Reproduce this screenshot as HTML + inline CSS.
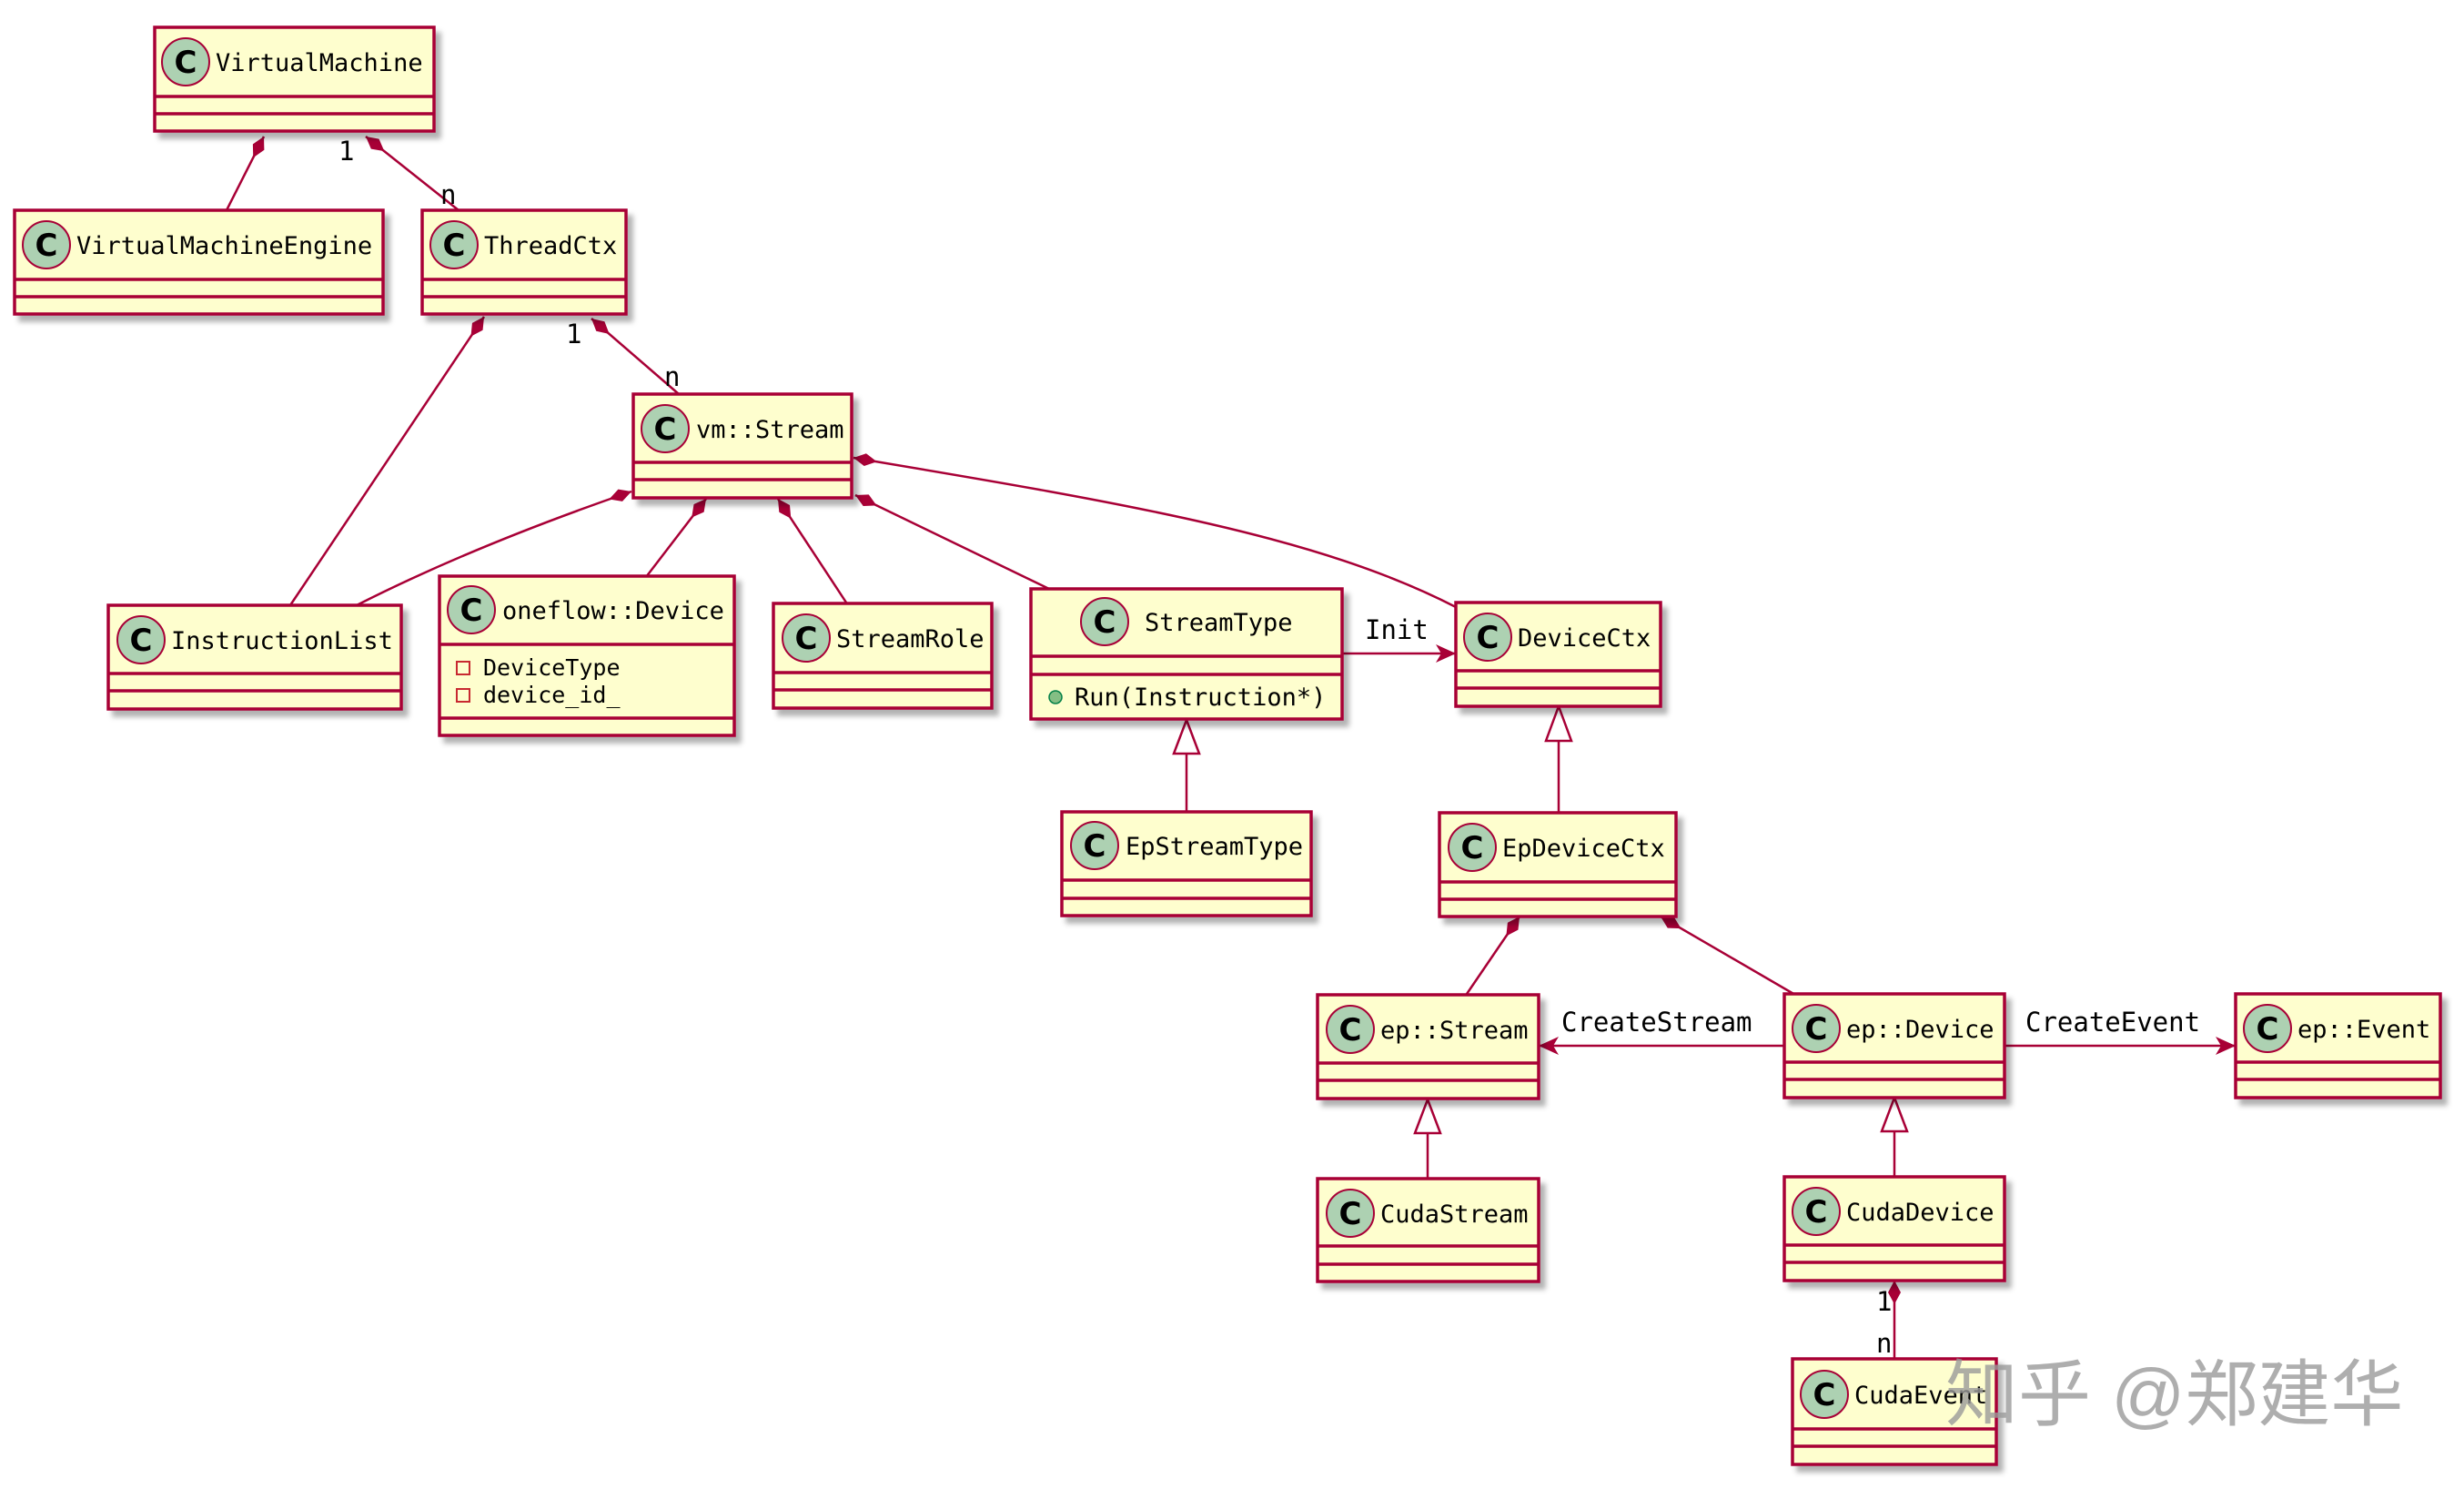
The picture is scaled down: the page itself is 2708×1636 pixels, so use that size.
<!DOCTYPE html>
<html><head><meta charset="utf-8">
<style>html,body{margin:0;padding:0;background:#fff;width:2708px;height:1636px;overflow:hidden}</style>
</head><body>
<svg width="2708" height="1636" viewBox="0 0 2708 1636" xmlns="http://www.w3.org/2000/svg">
<defs>
<filter id="sh" x="-10%" y="-10%" width="130%" height="140%"><feDropShadow dx="6" dy="7" stdDeviation="3" flood-color="#000" flood-opacity="0.3"/></filter>
<marker id="dm" markerUnits="userSpaceOnUse" markerWidth="26" markerHeight="14" refX="0" refY="7" orient="auto"><path d="M0,7 L13,0 L26,7 L13,14 z" fill="#A80036"/></marker>
<marker id="ar" markerUnits="userSpaceOnUse" markerWidth="24" markerHeight="24" refX="22" refY="12" orient="auto"><path d="M0,2 L22,12 L0,22 L6,12 z" fill="#A80036"/></marker>
</defs>
<style>
.b{fill:#FEFECE;stroke:#A80036;stroke-width:3.5;filter:url(#sh)}
.d{stroke:#A80036;stroke-width:3.5}
.c{fill:#ADD1B2;stroke:#A80036;stroke-width:2}
.t{font-family:"DejaVu Sans Mono","Liberation Mono",monospace;font-size:27px;fill:#000}
.g{font-family:"DejaVu Sans",sans-serif;font-size:34px;font-weight:bold;fill:#000;text-anchor:middle}
.l{fill:none;stroke:#A80036;stroke-width:2.5}
.lb{font-family:"DejaVu Sans Mono","Liberation Mono",monospace;font-size:29px;fill:#000}
</style>

<!-- connectors -->
<path class="l" marker-start="url(#dm)" d="M290,150 L249,231"/>
<path class="l" marker-start="url(#dm)" d="M402,150 L504,231"/>
<text class="lb" x="372" y="176">1</text>
<text class="lb" x="484" y="224">n</text>
<path class="l" marker-start="url(#dm)" d="M532,348 L319,665"/>
<path class="l" marker-start="url(#dm)" d="M650,350 L746,433"/>
<text class="lb" x="622" y="377">1</text>
<text class="lb" x="730" y="424">n</text>
<path class="l" marker-start="url(#dm)" d="M694,540 Q520,600 392,665"/>
<path class="l" marker-start="url(#dm)" d="M776,548 L710,634"/>
<path class="l" marker-start="url(#dm)" d="M855,548 L932,665"/>
<path class="l" marker-start="url(#dm)" d="M940,544 L1153,647"/>
<path class="l" marker-start="url(#dm)" d="M938,503 C1250,555 1450,590 1600,667"/>
<path class="l" marker-end="url(#ar)" d="M1475,718 L1600,718"/>
<text class="lb" x="1500" y="702">Init</text>
<path class="l" d="M1304,828 L1304,892"/>
<path d="M1304,791 L1318,828 L1290,828 z" fill="#fff" stroke="#A80036" stroke-width="2.5"/>
<path class="l" d="M1713,814 L1713,893"/>
<path d="M1713,776 L1727,814 L1699,814 z" fill="#fff" stroke="#A80036" stroke-width="2.5"/>
<path class="l" marker-start="url(#dm)" d="M1670,1007 L1610,1095"/>
<path class="l" marker-start="url(#dm)" d="M1825,1007 L1973,1093"/>
<path class="l" marker-end="url(#ar)" d="M1961,1149 L1691,1149"/>
<text class="lb" x="1716" y="1133">CreateStream</text>
<path class="l" marker-end="url(#ar)" d="M2203,1149 L2457,1149"/>
<text class="lb" x="2226" y="1133">CreateEvent</text>
<path class="l" d="M1569,1245 L1569,1296"/>
<path d="M1569,1208 L1583,1245 L1555,1245 z" fill="#fff" stroke="#A80036" stroke-width="2.5"/>
<path class="l" d="M2082,1243 L2082,1293"/>
<path d="M2082,1206 L2096,1243 L2068,1243 z" fill="#fff" stroke="#A80036" stroke-width="2.5"/>
<path class="l" marker-start="url(#dm)" d="M2082,1407 L2082,1493"/>
<text class="lb" x="2062" y="1440">1</text>
<text class="lb" x="2062" y="1486">n</text>

<!-- boxes -->
<g>
<rect class="b" x="170" y="30" width="307" height="114"/><line class="d" x1="170" y1="106" x2="477" y2="106"/><line class="d" x1="170" y1="125" x2="477" y2="125"/>
<circle class="c" cx="204" cy="68" r="26"/><text class="g" x="204" y="80">C</text><text class="t" x="237" y="78">VirtualMachine</text>

<rect class="b" x="16" y="231" width="405" height="114"/><line class="d" x1="16" y1="307" x2="421" y2="307"/><line class="d" x1="16" y1="326" x2="421" y2="326"/>
<circle class="c" cx="51" cy="269" r="26"/><text class="g" x="51" y="281">C</text><text class="t" x="84" y="279">VirtualMachineEngine</text>

<rect class="b" x="464" y="231" width="224" height="114"/><line class="d" x1="464" y1="307" x2="688" y2="307"/><line class="d" x1="464" y1="326" x2="688" y2="326"/>
<circle class="c" cx="499" cy="269" r="26"/><text class="g" x="499" y="281">C</text><text class="t" x="532" y="279">ThreadCtx</text>

<rect class="b" x="696" y="433" width="240" height="114"/><line class="d" x1="696" y1="508" x2="936" y2="508"/><line class="d" x1="696" y1="527" x2="936" y2="527"/>
<circle class="c" cx="731" cy="471" r="26"/><text class="g" x="731" y="483">C</text><text class="t" x="765" y="481">vm::Stream</text>

<rect class="b" x="119" y="665" width="322" height="114"/><line class="d" x1="119" y1="740" x2="441" y2="740"/><line class="d" x1="119" y1="759" x2="441" y2="759"/>
<circle class="c" cx="155" cy="703" r="26"/><text class="g" x="155" y="715">C</text><text class="t" x="188" y="713">InstructionList</text>

<rect class="b" x="483" y="633" width="324" height="175"/><line class="d" x1="483" y1="708" x2="807" y2="708"/><line class="d" x1="483" y1="789" x2="807" y2="789"/>
<circle class="c" cx="518" cy="670" r="26"/><text class="g" x="518" y="682">C</text><text class="t" x="552" y="680">oneflow::Device</text>
<rect x="502" y="727" width="14" height="14" fill="none" stroke="#C82930" stroke-width="2"/><text class="t" x="531" y="742" style="font-size:25px">DeviceType</text>
<rect x="502" y="757" width="14" height="14" fill="none" stroke="#C82930" stroke-width="2"/><text class="t" x="531" y="772" style="font-size:25px">device_id_</text>

<rect class="b" x="850" y="663" width="240" height="115"/><line class="d" x1="850" y1="739" x2="1090" y2="739"/><line class="d" x1="850" y1="758" x2="1090" y2="758"/>
<circle class="c" cx="886" cy="701" r="26"/><text class="g" x="886" y="713">C</text><text class="t" x="919" y="711">StreamRole</text>

<rect class="b" x="1133" y="647" width="342" height="143"/><line class="d" x1="1133" y1="721" x2="1475" y2="721"/><line class="d" x1="1133" y1="741" x2="1475" y2="741"/>
<circle class="c" cx="1214" cy="683" r="26"/><text class="g" x="1214" y="695">C</text><text class="t" x="1258" y="693">StreamType</text>
<circle cx="1160" cy="766" r="7" fill="#84BE84" stroke="#038048" stroke-width="1.5"/><text class="t" x="1181" y="775">Run(Instruction*)</text>

<rect class="b" x="1600" y="662" width="225" height="114"/><line class="d" x1="1600" y1="737" x2="1825" y2="737"/><line class="d" x1="1600" y1="756" x2="1825" y2="756"/>
<circle class="c" cx="1635" cy="700" r="26"/><text class="g" x="1635" y="712">C</text><text class="t" x="1668" y="710">DeviceCtx</text>

<rect class="b" x="1167" y="892" width="274" height="114"/><line class="d" x1="1167" y1="967" x2="1441" y2="967"/><line class="d" x1="1167" y1="987" x2="1441" y2="987"/>
<circle class="c" cx="1203" cy="929" r="26"/><text class="g" x="1203" y="941">C</text><text class="t" x="1237" y="939">EpStreamType</text>

<rect class="b" x="1582" y="893" width="260" height="114"/><line class="d" x1="1582" y1="969" x2="1842" y2="969"/><line class="d" x1="1582" y1="988" x2="1842" y2="988"/>
<circle class="c" cx="1618" cy="931" r="26"/><text class="g" x="1618" y="943">C</text><text class="t" x="1651" y="941">EpDeviceCtx</text>

<rect class="b" x="1448" y="1093" width="243" height="114"/><line class="d" x1="1448" y1="1168" x2="1691" y2="1168"/><line class="d" x1="1448" y1="1187" x2="1691" y2="1187"/>
<circle class="c" cx="1484" cy="1131" r="26"/><text class="g" x="1484" y="1143">C</text><text class="t" x="1517" y="1141">ep::Stream</text>

<rect class="b" x="1961" y="1092" width="242" height="114"/><line class="d" x1="1961" y1="1167" x2="2203" y2="1167"/><line class="d" x1="1961" y1="1186" x2="2203" y2="1186"/>
<circle class="c" cx="1996" cy="1130" r="26"/><text class="g" x="1996" y="1142">C</text><text class="t" x="2029" y="1140">ep::Device</text>

<rect class="b" x="2457" y="1092" width="225" height="114"/><line class="d" x1="2457" y1="1167" x2="2682" y2="1167"/><line class="d" x1="2457" y1="1186" x2="2682" y2="1186"/>
<circle class="c" cx="2492" cy="1130" r="26"/><text class="g" x="2492" y="1142">C</text><text class="t" x="2525" y="1140">ep::Event</text>

<rect class="b" x="1448" y="1295" width="243" height="113"/><line class="d" x1="1448" y1="1369" x2="1691" y2="1369"/><line class="d" x1="1448" y1="1389" x2="1691" y2="1389"/>
<circle class="c" cx="1484" cy="1333" r="26"/><text class="g" x="1484" y="1345">C</text><text class="t" x="1517" y="1343">CudaStream</text>

<rect class="b" x="1961" y="1293" width="242" height="114"/><line class="d" x1="1961" y1="1368" x2="2203" y2="1368"/><line class="d" x1="1961" y1="1387" x2="2203" y2="1387"/>
<circle class="c" cx="1996" cy="1331" r="26"/><text class="g" x="1996" y="1343">C</text><text class="t" x="2029" y="1341">CudaDevice</text>

<rect class="b" x="1970" y="1493" width="224" height="116"/><line class="d" x1="1970" y1="1570" x2="2194" y2="1570"/><line class="d" x1="1970" y1="1589" x2="2194" y2="1589"/>
<circle class="c" cx="2005" cy="1532" r="26"/><text class="g" x="2005" y="1544">C</text><text class="t" x="2038" y="1542">CudaEvent</text>
</g>

<text x="2138" y="1560" style="font-family:'Liberation Sans','Noto Sans CJK SC',sans-serif;font-size:80px;fill:#9a9a9a;fill-opacity:0.8">知乎 @郑建华</text>
</svg>
</body></html>
